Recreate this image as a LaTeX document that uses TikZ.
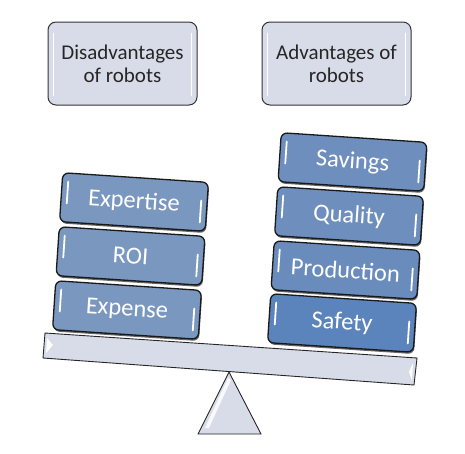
\documentclass[tikz,border=0pt]{standalone}
\usepackage{fontspec}
\setmainfont{Carlito}
\usetikzlibrary{calc,shadows}
\definecolor{lightbox}{HTML}{D7DCE8}
\definecolor{boxedge}{HTML}{333333}
\definecolor{blueA}{HTML}{7A97C0}
\definecolor{blueB}{HTML}{6E8FBD}
\definecolor{blueC}{HTML}{6A8CBD}
\definecolor{blueD}{HTML}{5B84BC}
\tikzset{
  headbox/.style={draw=boxedge, line width=1pt, fill=lightbox, rounded corners=8pt,
    minimum width=149pt, minimum height=83pt, align=center, text=black!85,
    font=\fontsize{21}{23}\selectfont, inner sep=0pt},
  stackbox/.style={draw=black!90, line width=1.3pt, rounded corners=6pt,
    minimum width=146pt, minimum height=49pt, inner sep=0pt, text=white,
    font=\fontsize{24.5}{26}\selectfont, transform shape,
    drop shadow={shadow xshift=0.8pt, shadow yshift=-1.8pt, opacity=0.6, fill=black}},
  hl/.style={draw=white, line width=1.8pt, line cap=round},
  beamfill/.style={draw=black!85, line width=0.9pt, fill=lightbox},
}
\newcommand{\stackblock}[5]{%
  \begin{scope}[shift={(#2,#3)}, rotate=-3.8]
    \node[stackbox, fill=#5] (#1) at (0,0) {#4};
    \draw[hl] (-67,-16) -- (-67,6);
    \draw[hl] (67,-6) -- (67,16);
  \end{scope}}
\begin{document}
\begin{tikzpicture}[x=1pt,y=-1pt]
  \useasboundingbox (0,0) rectangle (465,453);
  % header boxes
  \node[headbox] (dis) at (122.5,63.5) {Disadvantages\\of robots};
  \draw[hl, line width=1.5pt] ($(dis.north west)+(6,12)$) -- ($(dis.south west)+(6,-10)$);
  \draw[hl, line width=1.5pt] ($(dis.north east)+(-6,12)$) -- ($(dis.south east)+(-6,-10)$);
  \node[headbox] (adv) at (336.5,63.5) {Advantages of\\robots};
  \draw[hl, line width=1.5pt] ($(adv.north west)+(6,12)$) -- ($(adv.south west)+(6,-10)$);
  \draw[hl, line width=1.5pt] ($(adv.north east)+(-6,12)$) -- ($(adv.south east)+(-6,-10)$);
  % fulcrum
  \draw[beamfill] (229,372) -- (261,434) -- (198,434) -- cycle;
  \fill[white, opacity=0.85] (228,378) -- (231,380) -- (209,428) -- (205,428) -- cycle;
  % beam
  \draw[beamfill] (45,333) -- (417,358) -- (414,385) -- (43,358) -- cycle;
  \fill[white] (47,338) -- (53,345) -- (46,353) -- cycle;
  \fill[white] (413,363) -- (409,372) -- (412,381) -- cycle;
  % left stack
  \stackblock{expense}{127}{310}{Expense}{blueA}
  \stackblock{roi}{130.5}{256}{ROI}{blueA}
  \stackblock{expertise}{134}{202}{Expertise}{blueA}
  % right stack
  \stackblock{safety}{342}{323}{Safety}{blueD}
  \stackblock{production}{345.5}{270}{Production}{blueC}
  \stackblock{quality}{349}{216}{Quality}{blueB}
  \stackblock{savings}{352.5}{162}{Savings}{blueB}
\end{tikzpicture}
\end{document}
